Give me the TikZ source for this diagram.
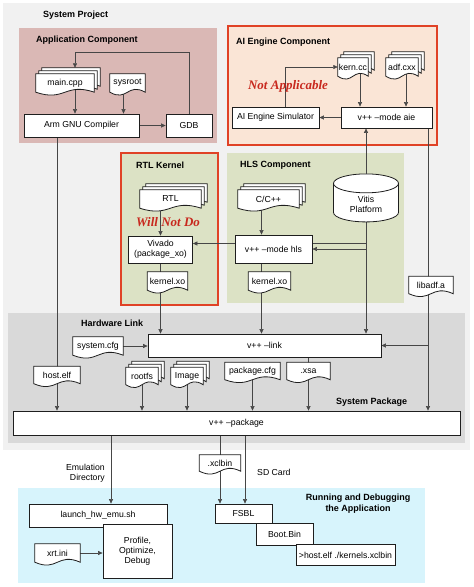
\documentclass[tikz,border=0pt]{standalone}
\usepackage{fontspec}
\setmainfont{Liberation Sans}
\newfontfamily\notefont{Liberation Serif}
\usetikzlibrary{positioning, arrows.meta, shapes.geometric, calc, backgrounds}

\definecolor{projgray}{RGB}{241,241,241}
\definecolor{appfill}{RGB}{218,184,181}
\definecolor{aiefill}{RGB}{250,229,214}
\definecolor{kernfill}{RGB}{220,226,197}
\definecolor{linkgray}{RGB}{217,217,217}
\definecolor{runfill}{RGB}{215,244,252}
\definecolor{redline}{RGB}{224,66,38}
\definecolor{notered}{RGB}{200,40,30}
\definecolor{boxline}{RGB}{30,30,30}
\definecolor{wire}{RGB}{70,70,70}

\pgfdeclarelayer{regions}
\pgfdeclarelayer{wires}
\pgfsetlayers{regions,wires,background,main}

% one sheet of a document symbol, shifted by (#2,#3)
\newcommand\docsheet[3]{%
  \filldraw[docline] ($(#1.north west)+(#2,#3)$) -- ($(#1.north east)+(#2,#3)$)
    -- ($(#1.south east)+(#2,#3)$)
    .. controls ($(#1.south)+(#2,#3-10)$) and ($(#1.south)+(#2,#3+10)$) .. ($(#1.south west)+(#2,#3)$) -- cycle;}
\newcommand\docstack[1]{\docsheet{#1}{6}{-6}\docsheet{#1}{3}{-3}\docsheet{#1}{0}{0}}

\begin{document}
\begin{tikzpicture}[x=1pt, y=-1pt,
  every node/.style={font=\fontsize{8.7}{10.2}\selectfont},
  box/.style={draw=boxline, fill=white, line width=0.8pt, inner sep=1pt, align=center},
  doc/.style={inner sep=1pt, align=center},
  docline/.style={draw=boxline, fill=white, line width=0.8pt},
  cyl/.style={cylinder, shape border rotate=90, aspect=0.55, draw=boxline, fill=white, line width=0.8pt, inner sep=1pt, align=center},
  region/.style={line width=1.3pt},
  title/.style={font=\fontsize{9}{11}\selectfont\bfseries, anchor=west, inner sep=0pt},
  note/.style={font=\fontsize{13}{15}\notefont\bfseries\itshape, text=notered, inner sep=0pt},
  arrow/.style={-{Triangle[length=4.5pt,width=4pt]}, draw=wire, line width=0.6pt}
]
\useasboundingbox (0,0) rectangle (474,587);

% regions
\begin{pgfonlayer}{regions}
\fill[projgray] (3,3) rectangle (470,450);
\fill[appfill] (19,28) rectangle (217,143);
\filldraw[region, fill=aiefill, draw=redline] (228,26) rectangle (437,145);
\filldraw[region, fill=kernfill, draw=redline] (121,153) rectangle (218,305);
\fill[kernfill] (227,153) rectangle (404,303);
\fill[linkgray] (8,313) rectangle (465,443);
\fill[runfill] (18,488) rectangle (425,583);
\end{pgfonlayer}

\node[title] (projT) at (43,15) {System Project};
\node[title] (appT) at (36,40) {Application Component};
\node[title] (aieT) at (236,42) {AI Engine Component};
\node[title] (rtlT) at (136,165) {RTL Kernel};
\node[title] (hlsT) at (240,165) {HLS Component};
\node[title] (linkT) at (81,323) {Hardware Link};
\node[title] (pkgT) at (336,402) {System Package};
\node[title, anchor=center, align=center] (runT) at (358,504) {Running and Debugging\\the Application};

% application component
\node[doc, minimum width=58pt, minimum height=18pt] (maincpp) at (65,83) {main.cpp};
\node[doc, minimum width=35pt, minimum height=18pt] (sysroot) at (127.5,83) {sysroot};
\node[box, minimum width=115pt, minimum height=23pt] (compiler) at (81.5,125.5) {Arm GNU Compiler};
\node[box, minimum width=46pt, minimum height=23pt] (gdb) at (189,125.5) {GDB};

% ai engine component
\node[doc, minimum width=30pt, minimum height=18pt] (kerncc) at (353,67) {kern.cc};
\node[doc, minimum width=32pt, minimum height=18pt] (adfcxx) at (402,67) {adf.cxx};
\node[box, minimum width=87pt, minimum height=21pt] (aiesim) at (275.5,117.5) {AI Engine Simulator};
\node[box, minimum width=91pt, minimum height=21pt] (aie) at (386.5,117.5) {v++ --mode aie};
\node[note] (notapp) at (288,86) {Not Applicable};

% rtl kernel
\node[doc, minimum width=61pt, minimum height=18pt] (rtl) at (170.5,199) {RTL};
\node[box, minimum width=64pt, minimum height=27pt] (vivado) at (160.5,249.5) {Vivado\\(package\_xo)};
\node[doc, minimum width=40pt, minimum height=18pt] (rtlxo) at (167.5,281) {kernel.xo};
\node[note] (willnot) at (168,222) {Will Not Do};

% hls component
\node[doc, minimum width=61pt, minimum height=18pt] (cpp) at (268.5,199) {C/C++};
\node[box, minimum width=77pt, minimum height=28pt] (hls) at (273.5,249) {v++ --mode hls};
\node[doc, minimum width=42pt, minimum height=18pt] (hlsxo) at (269.5,281) {kernel.xo};
\node[cyl, minimum width=65pt, minimum height=48pt] (vitis) at (366,204) {Vitis\\Platform};
\node[doc, minimum width=44pt, minimum height=17pt] (libadf) at (431,285) {libadf.a};

% hardware link and system package
\node[box, minimum width=233pt, minimum height=23pt] (link) at (264.5,345.5) {v++ --link};
\node[doc, minimum width=50pt, minimum height=18pt] (syscfg) at (98,346) {system.cfg};
\node[doc, minimum width=46pt, minimum height=17pt] (hostelf) at (57,375) {host.elf};
\node[doc, minimum width=32pt, minimum height=17pt] (rootfs) at (142,376) {rootfs};
\node[doc, minimum width=32pt, minimum height=17pt] (image) at (187,376) {Image};
\node[doc, minimum width=55pt, minimum height=17pt] (pkgcfg) at (252.5,371) {package.cfg};
\node[doc, minimum width=43pt, minimum height=17pt] (xsa) at (308.5,371) {.xsa};
\node[box, minimum width=447pt, minimum height=24pt] (package) at (236.5,423) {v++ --package};

% running and debugging
\node[doc, minimum width=41pt, minimum height=16pt] (xclbin) at (220,463) {.xclbin};
\node[anchor=east, align=right, inner sep=0pt] (emudir) at (105,473) {Emulation\\Directory};
\node[anchor=west, inner sep=0pt] (sdcard) at (257,472) {SD Card};
\node[box, minimum width=138pt, minimum height=23pt] (launch) at (98,515.5) {launch\_hw\_emu.sh};
\node[box, minimum width=69pt, minimum height=54pt] (profile) at (137.5,551) {Profile,\\Optimize,\\Debug};
\node[doc, minimum width=45pt, minimum height=18pt] (xrtini) at (57.5,553) {xrt.ini};
\node[box, minimum width=57pt, minimum height=19pt] (fsbl) at (243.5,513.5) {FSBL};
\node[box, minimum width=57pt, minimum height=22pt] (bootbin) at (284.5,534) {Boot.Bin};
\node[box, minimum width=99pt, minimum height=21pt] (hostcmd) at (345.5,555) {>host.elf ./kernels.xclbin};

\coordinate (vivin) at ([yshift=6pt]vivado.east);
\coordinate (adfline) at ([xshift=-3pt]libadf.center);

% document symbols
\begin{pgfonlayer}{background}
\docstack{maincpp}
\docsheet{sysroot}{0}{0}
\docstack{kerncc}
\docstack{adfcxx}
\docstack{rtl}
\docsheet{rtlxo}{0}{0}
\docstack{cpp}
\docsheet{hlsxo}{0}{0}
\docsheet{libadf}{0}{0}
\docsheet{syscfg}{0}{0}
\docsheet{hostelf}{0}{0}
\docstack{rootfs}
\docstack{image}
\docsheet{pkgcfg}{0}{0}
\docsheet{xsa}{0}{0}
\docsheet{xclbin}{0}{0}
\docsheet{xrtini}{0}{0}
\end{pgfonlayer}

% connectors
\begin{pgfonlayer}{wires}
\draw[arrow] ([xshift=10pt]maincpp.center) -- ([xshift=10pt]maincpp.center |- compiler.north);
\draw[arrow] ([xshift=-4pt]sysroot.center) -- ([xshift=-4pt]sysroot.center |- compiler.north);
\draw[arrow] (compiler.east) -- (gdb.west);
\draw[arrow] (gdb.north) |- ([xshift=10pt,yshift=22pt]maincpp.north) -- ([xshift=10pt,yshift=6pt]maincpp.north);

\draw[arrow] (aie.west) -- (aiesim.east);
\draw[arrow] ([xshift=10pt]aiesim.north) |- (kerncc.west);
\draw[arrow] ([xshift=7pt]kerncc.center) -- ([xshift=7pt]kerncc.center |- aie.north);
\draw[arrow] ([xshift=4pt]adfcxx.center) -- ([xshift=4pt]adfcxx.center |- aie.north);

\draw[arrow] (vivado.center |- rtl.center) -- (vivado.north);
\draw[arrow] (vivado.center) -- (vivado.center |- link.north);
\draw[arrow] ([xshift=-12pt]hls.north |- cpp.center) -- ([xshift=-12pt]hls.north);
\draw[arrow] ([xshift=-12pt]hls.center) -- ([xshift=-12pt]hls.center |- link.north);

\draw[arrow] (vitis.center) -- (vitis.center |- aie.south);
\draw[arrow] (vitis.center) -- (vitis.center |- link.north);
\draw[arrow] (vitis.center |- hls.east) -- (hls.east);
\draw[arrow] (vitis.center |- vivin) -- (vivin);

\draw[arrow] (adfline |- aie.south) -- (adfline |- package.north);
\draw[arrow] (adfline |- link.east) -- (link.east);

\draw[arrow] (syscfg.east) -- (link.west |- syscfg.east);
\draw[arrow] (hostelf.center |- compiler.south) -- (hostelf.center |- package.north);
\draw[arrow] (rootfs.center) -- (rootfs.center |- package.north);
\draw[arrow] (image.center) -- (image.center |- package.north);
\draw[arrow] (pkgcfg.center) -- (pkgcfg.center |- package.north);
\draw[arrow] (xsa.center |- link.south) -- (xsa.center |- package.north);

\draw[arrow] ([xshift=13pt]launch.north |- package.south) -- ([xshift=13pt]launch.north);
\draw[arrow] (xclbin.center |- package.south) -- (xclbin.center |- fsbl.north);
\draw[arrow] ([xshift=1.5pt]fsbl.north |- package.south) -- ([xshift=1.5pt]fsbl.north);
\draw[arrow] (xrtini.east) -- (profile.west |- xrtini.east);
\end{pgfonlayer}

\end{tikzpicture}
\end{document}
